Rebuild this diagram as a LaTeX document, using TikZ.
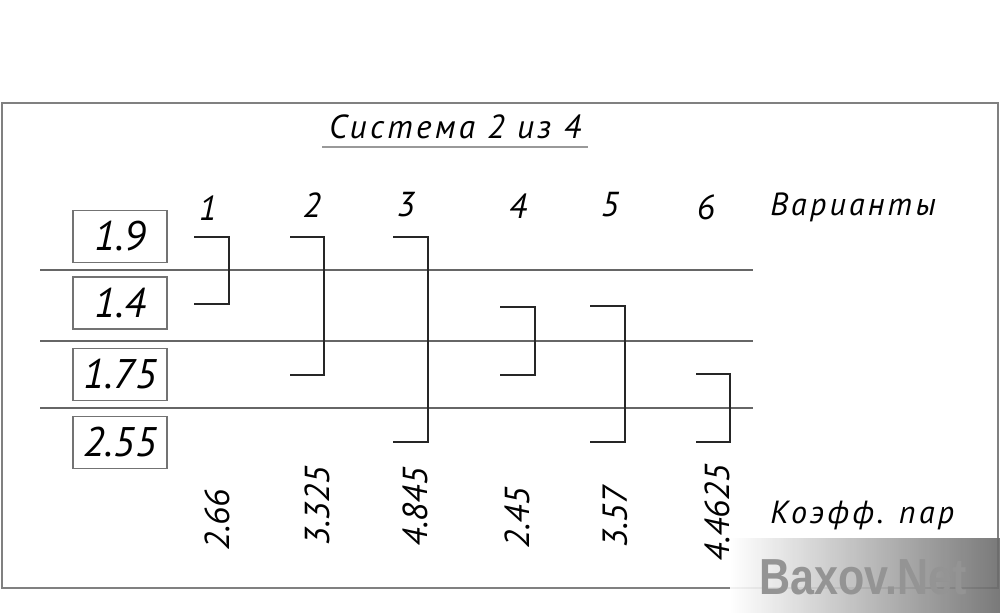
\documentclass[tikz,border=0pt]{standalone}
\usepackage{fontspec}
\setmainfont{PT Sans}
\newfontfamily\wmfont{Liberation Sans}
\newfontfamily\spaced[LetterSpace=10]{PT Sans}
\begin{document}
\begin{tikzpicture}[x=0.75pt,y=-0.75pt,
  frame/.style={draw=black!50,line width=1.2pt},
  rowline/.style={draw=black!60,line width=0.9pt},
  brk/.style={draw=black!85,line width=1.4pt},
  valbox/.style={draw=black!55,line width=0.9pt,minimum width=70.5pt,minimum height=39pt,inner sep=0pt,font=\fontsize{31}{31}\selectfont\itshape},
  colnum/.style={font=\fontsize{26}{26}\selectfont\itshape,inner sep=0pt},
  coef/.style={rotate=90,font=\fontsize{26}{26}\selectfont\itshape,inner sep=0pt},
  label/.style={font=\spaced\fontsize{24}{24}\selectfont\itshape,inner sep=0pt,anchor=west},
]
\useasboundingbox (0,0) rectangle (1000,615);
% frame
\draw[frame] (2,103) rectangle (998,588);
% title
\node[font=\spaced\fontsize{25}{25}\selectfont\itshape,inner sep=0pt] (title) at (455,127) {Система 2 из 4};
\draw[draw=black!40,line width=1pt] (322,147) -- (588,147);
% row lines
\foreach \y/\n in {270/l1,341/l2,408/l3}{
  \coordinate (\n a) at (40,\y);
  \coordinate (\n b) at (753,\y);
  \draw[rowline] (\n a) -- (\n b);
}
% value boxes
\node[valbox] (v1) at (120,236.5) {1.9};
\node[valbox] (v2) at (120,303) {1.4};
\node[valbox] (v3) at (120,374.5) {1.75};
\node[valbox] (v4) at (120,442.5) {2.55};
% column numbers
\node[colnum] (c1) at (208,208) {1};
\node[colnum] (c2) at (312,205) {2};
\node[colnum] (c3) at (406,205) {3};
\node[colnum] (c4) at (518,206) {4};
\node[colnum] (c5) at (610,205) {5};
\node[colnum] (c6) at (706,207) {6};
\node[label] (var) at (770,207) {Варианты};
% brackets
\foreach \k/\xl/\xr/\ya/\yb in {1/194/229/237/304, 2/290/324/237/375, 3/393/428/237/442, 4/500/535/307/375, 5/590/625/306/442, 6/696/730/374/442}{
  \coordinate (p\k a) at (\xl,\ya);
  \coordinate (p\k b) at (\xl,\yb);
  \draw[brk] (p\k a) -| (\xr,\yb) -- (p\k b);
}
% coefficients
\node[coef] (k1) at (217,520) {2.66};
\node[coef] (k2) at (317,506) {3.325};
\node[coef] (k3) at (415,507) {4.845};
\node[coef] (k4) at (517,518) {2.45};
\node[coef] (k5) at (615,517) {3.57};
\node[coef] (k6) at (717,513) {4.4625};
\node[label] (kp) at (770,515) {Коэфф. пар};
% watermark
\shade[left color=white, right color=black!58, opacity=0.9] (730,538) rectangle (1000,612);
\node[font=\wmfont\bfseries\fontsize{38}{38}\selectfont, text=black!42, xscale=0.85, inner sep=0pt] (wm) at (863,577) {Baxov.Net};
\end{tikzpicture}
\end{document}
